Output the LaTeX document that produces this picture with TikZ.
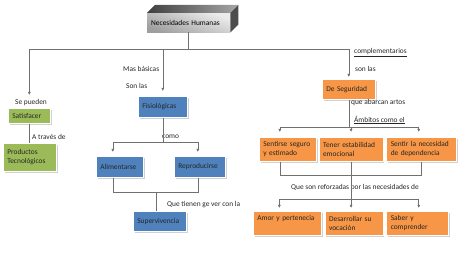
\documentclass[tikz,border=0pt]{standalone}
\usepackage{fontspec}
\setmainfont{Carlito}
\usetikzlibrary{arrows.meta, positioning, calc, shadows}

\definecolor{azul}{HTML}{4F81BD}
\definecolor{naranja}{HTML}{F79646}
\definecolor{verde}{HTML}{9BBB59}
\definecolor{trazo}{HTML}{707070}

\tikzset{
  linea/.style={draw=trazo, line width=0.6pt},
  flecha/.style={linea, -{Latex[length=3.2pt,width=3.2pt]}},
  caja/.style={draw=white, line width=0.7pt, align=left, inner xsep=4pt, inner ysep=2pt,
    anchor=north west, text=black!85,
    drop shadow={shadow xshift=1.2pt, shadow yshift=-1.2pt, fill=gray!45, opacity=0.8}},
  etiqueta/.style={anchor=west, inner sep=0pt, text=black!85}
}

\begin{document}
\begin{tikzpicture}[x=1pt, y=-1pt, font=\fontsize{7.4}{8.8}\selectfont]
  \useasboundingbox (0,0) rectangle (474,259);

  % caja principal en 3D
  \node (nh) [anchor=north west, minimum width=83pt, minimum height=19pt, text width=75pt, inner xsep=4pt,
    align=left, shade, top color=gray!15, bottom color=gray!75, shading angle=-20] at (147,13) {Necesidades Humanas};
  \shade[left color=black!75, right color=gray!70] (nh.north west) -- ++(8,-8) -- ([shift={(8pt,8pt)}]nh.north east) -- (nh.north east) -- cycle;
  \fill[black!70] (nh.north east) -- ([shift={(8pt,8pt)}]nh.north east) -- ([shift={(8pt,8pt)}]nh.south east) -- (nh.south east) -- cycle;

  % rama izquierda
  \node (sat) [caja, fill=verde, minimum width=42pt, minimum height=15pt, text width=34pt] at (8,108) {Satisfacer};
  \node (prod) [caja, fill=verde, minimum width=53pt, minimum height=28pt, text width=45pt] at (3,143) {Productos\\Tecnológicos};

  % rama central
  \node (fis) [caja, fill=azul, minimum width=49pt, minimum height=21pt, text width=41pt] at (138,96) {Fisiológicas};
  \node (ali) [caja, fill=azul, minimum width=47pt, minimum height=21pt, text width=39pt] at (96,156) {Alimentarse};
  \node (rep) [caja, fill=azul, minimum width=51pt, minimum height=21pt, text width=43pt] at (174,156) {Reproducirse};
  \node (sup) [caja, fill=azul, minimum width=53pt, minimum height=20pt, text width=45pt] at (133,211) {Supervivencia};

  % rama derecha
  \node (seg) [caja, fill=naranja, minimum width=53pt, minimum height=20pt, text width=45pt] at (322,79) {De Seguridad};
  \node (s1) [caja, fill=naranja, minimum width=57pt, minimum height=24pt, text width=49pt] at (259,137) {Sentirse seguro\\y estimado};
  \node (s2) [caja, fill=naranja, minimum width=64pt, minimum height=24pt, text width=56pt, right=2pt of s1] {Tener estabilidad\\emocional};
  \node (s3) [caja, fill=naranja, minimum width=70pt, minimum height=24pt, text width=62pt, right=3pt of s2] {Sentir la necesidad\\de dependencia};
  \node (t1) [caja, fill=naranja, minimum width=68pt, minimum height=24pt, text width=60pt] at (253,211) {Amor y pertenecia\\\strut};
  \node (t2) [caja, fill=naranja, minimum width=58pt, minimum height=24pt, text width=50pt, right=3pt of t1] {Desarrollar su\\vocación};
  \node (t3) [caja, fill=naranja, minimum width=62pt, minimum height=24pt, text width=54pt, right=3pt of t2] {Saber y\\comprender};

  % etiquetas
  \node (lmas) [etiqueta] at (123,69) {Mas básicas};
  \node (lson) [etiqueta] at (126,86) {Son las};
  \node (lpue) [etiqueta] at (15,103) {Se pueden};
  \node (ltra) [etiqueta] at (32,137) {A través de};
  \node (lcom) [etiqueta] at (162,137) {como};
  \node (ltie) [etiqueta] at (167,205) {Que tienen ge ver con la};
  \node (lcpl) [etiqueta] at (354,53) {\underline{complementarios}};
  \node (lsln) [etiqueta] at (355,69) {son las};
  \node (labr) [etiqueta] at (351,103) {que abarcan artos};
  \node (lamb) [etiqueta] at (354,120) {\underline{Ámbitos como el}};
  \node (lref) [etiqueta] at (291,188) {Que son reforzadas por las necesidades de};

  % barras
  \coordinate (busA) at (0,49);
  \coordinate (busB) at (0,142);
  \coordinate (busC) at (0,192);
  \coordinate (busD) at (0,127);
  \coordinate (busE) at (0,175);
  \coordinate (busF) at (0,199);
  \coordinate (alia) at ([xshift=-7pt]ali.north);
  \coordinate (repa) at ([xshift=-2pt]rep.north);
  \coordinate (alib) at ([xshift=-7pt]ali.south);
  \coordinate (repb) at ([xshift=-2pt]rep.south);
  \coordinate (supa) at ([xshift=-4pt]sup.north);
  \coordinate (s1a) at ([xshift=-8pt]s1.north);
  \coordinate (s2a) at (s2.north);
  \coordinate (s3a) at ([xshift=-3pt]s3.north);
  \coordinate (s1b) at ([xshift=-8pt]s1.south);
  \coordinate (s3b) at (s3.south);
  \coordinate (t1a) at ([xshift=-8pt]t1.north);
  \coordinate (t2a) at ([xshift=-3pt]t2.north);
  \coordinate (t3a) at ([xshift=1pt]t3.north);

  % conectores
  \draw[linea] (nh.south) -- (nh.south |- busA);
  \draw[flecha, shorten >=13pt] (nh.south |- busA) -| (sat.north);
  \draw[flecha, shorten >=5pt] (fis.north |- busA) -- (fis.north);
  \draw[flecha, shorten >=2pt] (nh.south |- busA) -| (seg.north);
  \draw[linea] (sat.south) -- (sat.south |- prod.north);

  \draw[linea] (fis.south) -- (fis.south |- busB);
  \draw[linea] (alia |- busB) -- (repa |- busB);
  \draw[flecha, shorten >=4pt] (alia |- busB) -- (alia);
  \draw[flecha, shorten >=4pt] (repa |- busB) -- (repa);
  \draw[linea] (alib) -- (alib |- busC) -| (repb);
  \draw[linea] (supa |- busC) -- (supa);

  \draw[linea] (seg.south) -- (seg.south |- busD);
  \draw[linea] (s1a |- busD) -- (s3a |- busD);
  \foreach \c in {s1a, s2a, s3a}
    \draw[flecha, shorten >=5pt] (\c |- busD) -- (\c);
  \draw[linea] (s1b) -- (s1b |- busE) -| (s3b);
  \draw[linea] (s2.south) -- (s2.south |- busF);
  \draw[linea] (t1a |- busF) -- (t3a |- busF);
  \foreach \c in {t1a, t2a, t3a}
    \draw[flecha, shorten >=3pt] (\c |- busF) -- (\c);
\end{tikzpicture}
\end{document}
